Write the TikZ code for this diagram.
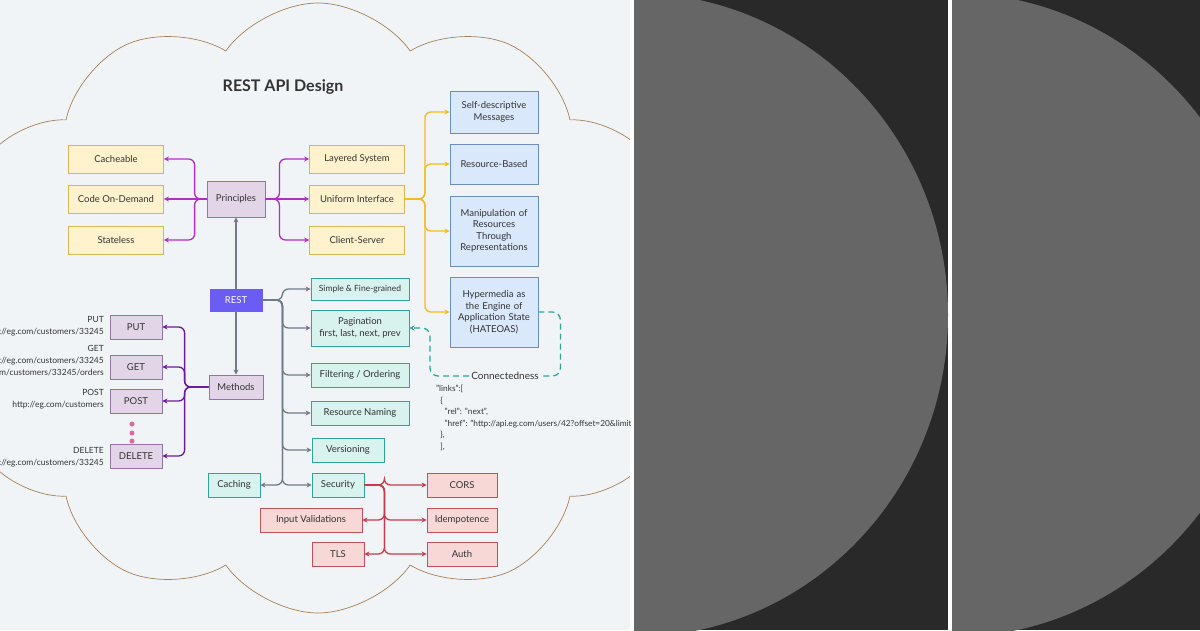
\documentclass[tikz,border=0pt]{standalone}
\usepackage{fontspec}
\setmainfont{Lato}
\usetikzlibrary{shapes.symbols,arrows.meta}
\definecolor{bgc}{HTML}{F1F4F7}
\definecolor{yf}{HTML}{FFF2CC}\definecolor{yd}{HTML}{D6B656}
\definecolor{pf}{HTML}{E1D5E7}\definecolor{pd}{HTML}{9673A6}
\definecolor{bf}{HTML}{DAE8FC}\definecolor{bd}{HTML}{6C8EBF}
\definecolor{tf}{HTML}{D8F2EE}\definecolor{td}{HTML}{2BA79A}
\definecolor{rf}{HTML}{F8D7D7}\definecolor{rd}{HTML}{C0505A}
\definecolor{pl}{HTML}{B030C0}\definecolor{dp}{HTML}{6A1B9A}
\definecolor{og}{HTML}{F5BA1E}\definecolor{gy}{HTML}{6F7B88}
\definecolor{rr}{HTML}{C83A4E}\definecolor{txt}{HTML}{333333}
\definecolor{rc}{HTML}{6A5CF5}
\begin{document}
\begin{tikzpicture}[x=1pt,y=-1pt,
 box/.style={draw,line width=0.8pt,align=center,font=\fontsize{9.5}{11.5}\selectfont,text=txt,inner sep=2pt},
 yb/.style={box,fill=yf,draw=yd,minimum width=95pt,minimum height=28pt},
 pb/.style={box,fill=pf,draw=pd},
 bb/.style={box,fill=bf,draw=bd,minimum width=88pt,text width=82pt},
 tb/.style={box,fill=tf,draw=td,minimum height=24pt},
 rb/.style={box,fill=rf,draw=rd,minimum height=24pt},
 lab/.style={font=\fontsize{8.5}{12}\selectfont,text=txt,align=right,anchor=east,inner sep=0pt},
 ar/.style={-{Stealth[length=5pt,width=5pt]},line width=1.3pt,rounded corners=6pt},
]
\useasboundingbox (0,0) rectangle (1200,630);
\fill[white] (0,0) rectangle (1200,630);
\fill[bgc] (0,0) rectangle (630,630);
\fill[black!84] (634,0) rectangle (948,630);
\fill[black!84] (952,0) rectangle (1200,630);
\begin{scope}
\clip (634,0) rectangle (948,630);
\fill[black!60] (634,315) ellipse [x radius=314pt,y radius=322pt];
\end{scope}
\begin{scope}
\clip (952,0) rectangle (1200,630);
\fill[black!60] (952,315) ellipse [x radius=314pt,y radius=322pt];
\end{scope}
\begin{scope}
\clip (0,0) rectangle (630,630);
\node[cloud,cloud puffs=12,cloud puff arc=110,cloud ignores aspect,draw=brown!60!gray,line width=0.7pt,minimum width=760pt,minimum height=610pt] (cl) at (318,308) {};
\node[font=\bfseries\fontsize{16}{18}\selectfont,text=txt] (title) at (283,87) {REST API Design};
% yellow
\node[yb] (ca) at (116,159) {Cacheable};
\node[yb] (cod) at (116,199) {Code On-Demand};
\node[yb] (st) at (116,240) {Stateless};
\node[pb,minimum width=58pt,minimum height=36pt] (pr) at (236,199) {Principles};
\node[yb] (ls) at (357,159) {Layered System};
\node[yb] (ui) at (357,199) {Uniform Interface};
\node[yb] (cs) at (357,240) {Client-Server};
% blue
\node[bb,minimum height=42pt] (sd) at (494,112) {Self-descriptive\\Messages};
\node[bb,minimum height=40pt] (rbn) at (494,164) {Resource-Based};
\node[bb,minimum height=70pt] (mr) at (494,231) {Manipulation of\\Resources\\Through\\Representations};
\node[bb,minimum height=70pt] (ha) at (494,312) {Hypermedia as\\the Engine of\\Application State\\(HATEOAS)};
% rest
\node[box,fill=rc,draw=rc,text=white,minimum width=52pt,minimum height=22pt] (rest) at (236,300) {REST};
\node[pb,minimum width=54pt,minimum height=24pt] (me) at (236,387) {Methods};
\node[pb,minimum width=52pt,minimum height=24pt] (put) at (136,327) {PUT};
\node[pb,minimum width=52pt,minimum height=24pt] (get) at (136,367) {GET};
\node[pb,minimum width=52pt,minimum height=24pt] (post) at (136,401) {POST};
\node[pb,minimum width=52pt,minimum height=24pt] (del) at (136,456) {DELETE};
\foreach \y/\n in {424/d1,433/d2,441/d3} \fill[magenta!50!pink!90!black] (132,\y) circle (2.5pt) coordinate (\n);
\node[lab] (lput) at (104,326) {PUT\\http://eg.com/customers/33245};
\node[lab] (lget) at (104,361) {GET\\http://eg.com/customers/33245\\http://eg.com/customers/33245/orders};
\node[lab] (lpost) at (104,399) {POST\\http://eg.com/customers};
\node[lab] (ldel) at (104,457) {DELETE\\http://eg.com/customers/33245};
% teal
\node[tb,minimum width=98pt,minimum height=22pt,font=\fontsize{8.5}{10}\selectfont] (sf) at (360,289) {Simple \& Fine-grained};
\node[tb,minimum width=98pt,minimum height=36pt] (pg) at (360,328) {Pagination\\first, last, next, prev};
\node[tb,minimum width=98pt] (fo) at (360,375) {Filtering / Ordering};
\node[tb,minimum width=98pt] (rn) at (360,413) {Resource Naming};
\node[tb,minimum width=72pt] (ve) at (348,450) {Versioning};
\node[tb,minimum width=52pt] (cach) at (234,485) {Caching};
\node[tb,minimum width=52pt] (sec) at (338,485) {Security};
% red
\node[rb,minimum width=70pt] (cors) at (462,485) {CORS};
\node[rb,minimum width=70pt] (idem) at (462,520) {Idempotence};
\node[rb,minimum width=70pt] (auth) at (462,554) {Auth};
\node[rb,minimum width=102pt] (iv) at (311,520) {Input Validations};
\node[rb,minimum width=52pt] (tls) at (338,554) {TLS};
% connectedness
\node[font=\fontsize{10}{12}\selectfont,text=txt,fill=bgc,inner sep=2pt] (con) at (505,376) {Connectedness};
\node[font=\fontsize{8.3}{11.5}\selectfont,text=txt,align=left,anchor=north west,inner sep=0pt] (json) at (436,385)
 {"links":[\\\ \ \{\\\ \ \ \ "rel": "next",\\\ \ \ \ "href": "http://api.eg.com/users/42?offset=20\&limit=20"\\\ \ \},\\\ \ ],};
% connectors
\draw[ar,pl] (pr.west) -- ++(-12,0) |- (ca.east);
\draw[ar,pl] (pr.west) -- (cod.east);
\draw[ar,pl] (pr.west) -- ++(-12,0) |- (st.east);
\draw[ar,pl] (pr.east) -- ++(14,0) |- (ls.west);
\draw[ar,pl] (pr.east) -- (ui.west);
\draw[ar,pl] (pr.east) -- ++(14,0) |- (cs.west);
\foreach \t in {sd,rbn,mr,ha} \draw[ar,og] (ui.east) -- ++(20,0) |- (\t.west);
\draw[ar,gy] (rest.north) -- (pr.south);
\draw[ar,gy] (rest.south) -- (me.north);
\foreach \t in {sf,pg,fo,rn,ve,sec} \draw[ar,gy] (rest.east) -- ++(20,0) |- (\t.west);
\draw[ar,gy] (rest.east) -- ++(20,0) |- (cach.east);
\foreach \t in {put,get,post,del} \draw[ar,dp] (me.west) -- ++(-24,0) |- (\t.east);
\foreach \t in {cors,idem,auth} \draw[ar,rr] (sec.east) -- ++(20,0) |- (\t.west);
\draw[ar,rr] (sec.east) -- ++(20,0) |- (iv.east);
\draw[ar,rr] (sec.east) -- ++(20,0) |- (tls.east);
\draw[td,line width=1.3pt,dash pattern=on 6pt off 4pt,rounded corners=8pt] (ha.east) -- ++(22,0) |- (con.east);
\draw[ar,td,dash pattern=on 6pt off 4pt,rounded corners=8pt] (con.west) -| (430,350) |- (pg.east);
\end{scope}
\end{tikzpicture}
\end{document}
